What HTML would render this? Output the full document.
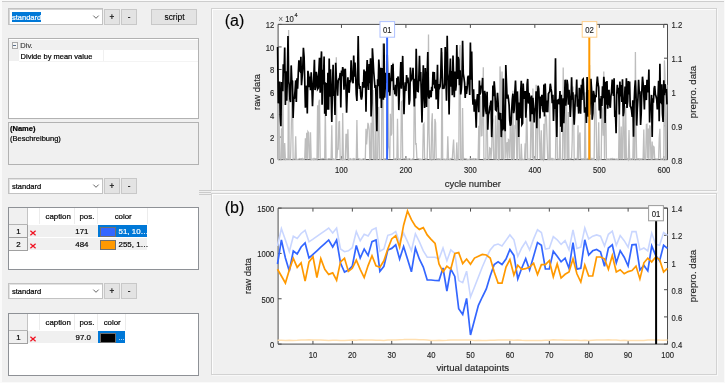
<!DOCTYPE html>
<html><head><meta charset="utf-8"><style>
*{box-sizing:border-box;margin:0;padding:0}
html,body{width:725px;height:383px;overflow:hidden;background:#fafafa}
body{position:relative;font-family:"Liberation Sans",sans-serif;color:#000}
.a{position:absolute}
.win{left:2px;top:2px;width:722px;height:380px;background:#f0f0f0}
.topline{left:2px;top:1px;width:722px;height:1px;background:#cdcdcd}
.t{font-size:7.5px;line-height:1;white-space:nowrap;-webkit-text-stroke:0.2px currentColor}
.cb{background:#fff;border:1px solid #c2c2c2;box-shadow:inset 1px 1px 0 #e2e2e2}
.btn{background:#e3e3e3;border:1px solid #c8c8c8}
.box{border:1px solid #b2b2b2}
.tbl{border:1px solid #8e9196;background:#fff}
.panel{border:1px solid #d2d2d2;box-shadow:inset 1px 1px 0 #fdfdfd,1px 1px 0 #f8f8f8}
svg text{font-family:"Liberation Sans",sans-serif;stroke:#262626;stroke-width:0.15px}
</style></head><body>
<div class="a topline"></div>
<div class="a win"></div>

<div class="a cb" style="left:8px;top:8px;width:95px;height:17px;box-shadow:inset 1px 1px 0 #d6d6d6"></div><div class="a" style="left:11.8px;top:11.75px;width:29px;height:10px;background:#0078d7"></div><div class="a t" style="left:12px;top:13.8px;color:#fff">standard</div><svg class="a" style="left:92px;top:14.4px" width="8" height="6" viewBox="0 0 8 6"><path d="M1.3 1.6 L4 4.3 L6.7 1.6" fill="none" stroke="#666" stroke-width="1"/></svg><div class="a btn" style="left:104px;top:9px;width:16px;height:16px"></div><div class="a t" style="left:104px;top:14.0px;width:16px;text-align:center;font-size:8.2px">+</div><div class="a btn" style="left:121px;top:9px;width:16px;height:16px"></div><div class="a t" style="left:121px;top:12.8px;width:16px;text-align:center;font-size:8px">-</div>
<div class="a btn" style="left:151px;top:9px;width:46px;height:16px"></div>
<div class="a t" style="left:151.5px;top:13px;width:46px;text-align:center;font-size:8.4px;-webkit-text-stroke:0.1px #000">script</div>
<div class="a box" style="left:8px;top:38px;width:191px;height:81px;background:#fff"></div>
<div class="a" style="left:9px;top:40px;width:189px;height:10px;background:#f0f0f0"></div>
<div class="a" style="left:9px;top:50px;width:10px;height:11px;background:#f0f0f0"></div>
<div class="a" style="left:103px;top:50px;width:1px;height:11px;background:#f0f0f0"></div>
<div class="a" style="left:19px;top:60.5px;width:179px;height:1px;background:#f4f4f4"></div>
<div class="a" style="left:11.5px;top:42px;width:6.5px;height:6.5px;border:1px solid #a8a8a8;background:#f6f6f6"></div>
<div class="a" style="left:13.2px;top:44.8px;width:3.2px;height:1px;background:#5a6f8a"></div>
<div class="a t" style="left:20.3px;top:41.6px;color:#4a4a4a">Div.</div>
<div class="a t" style="left:20.6px;top:52.8px">Divide by mean value</div>
<div class="a box" style="left:8px;top:122px;width:191px;height:43px;background:#f0f0f0"></div>
<div class="a t" style="left:10px;top:124.5px;font-weight:bold">(Name)</div>
<div class="a t" style="left:10px;top:135.2px">(Beschreibung)</div>
<div class="a cb" style="left:8px;top:178.4px;width:95px;height:16px"></div><div class="a t" style="left:12px;top:182.5px;color:#000">standard</div><svg class="a" style="left:92px;top:182.6px" width="8" height="6" viewBox="0 0 8 6"><path d="M1.3 1.6 L4 4.3 L6.7 1.6" fill="none" stroke="#666" stroke-width="1"/></svg><div class="a btn" style="left:104px;top:178px;width:16px;height:16px"></div><div class="a t" style="left:104px;top:183.0px;width:16px;text-align:center;font-size:8.2px">+</div><div class="a btn" style="left:121px;top:178px;width:16px;height:16px"></div><div class="a t" style="left:121px;top:181.8px;width:16px;text-align:center;font-size:8px">-</div>
<div class="a" style="left:199px;top:190px;width:12px;height:1px;background:#cbcbcb"></div>
<div class="a" style="left:199px;top:192px;width:12px;height:1px;background:#cbcbcb"></div>
<div class="a" style="left:199px;top:194px;width:12px;height:1px;background:#cbcbcb"></div>
<div class="a tbl" style="left:8px;top:207px;width:191px;height:63px"></div><div class="a" style="left:9px;top:208px;width:19px;height:17px;background:#f0f0f0;border-right:1px solid #c4c4c4;border-bottom:1px solid #b4b4b4"></div><div class="a" style="left:39px;top:208px;width:1px;height:16px;background:#ececec"></div><div class="a" style="left:74px;top:208px;width:1px;height:16px;background:#ececec"></div><div class="a" style="left:97px;top:208px;width:1px;height:16px;background:#ececec"></div><div class="a" style="left:147px;top:208px;width:1px;height:16px;background:#ececec"></div><div class="a t" style="left:40.7px;top:213.3px;width:35px;text-align:center;font-size:7.9px">caption</div><div class="a t" style="left:75.4px;top:213.3px;width:23px;text-align:center;font-size:7.9px">pos.</div><div class="a t" style="left:98.2px;top:213.3px;width:50px;text-align:center;font-size:7.9px">color</div><div class="a" style="left:9px;top:225px;width:19px;height:13px;background:#f0f0f0;border-right:1px solid #a0a0a0;border-bottom:1px solid #a0a0a0"></div><div class="a t" style="left:9px;top:228.3px;width:19px;text-align:center;font-size:7.9px">1</div><div class="a" style="left:28px;top:225px;width:119px;height:12px;background:#f0f0f0"></div><svg class="a" style="left:29px;top:229px" width="8" height="8" viewBox="0 0 8 8"><path d="M1.4 1.8 L6.6 6.2 M6.6 1.8 L1.4 6.2" stroke="#f01020" stroke-width="1.25"/></svg><div class="a t" style="left:73.5px;top:228.3px;width:15px;text-align:right;font-size:7.9px">171</div><div class="a" style="left:98px;top:225px;width:49px;height:12px;background:#0078d7"></div><div class="a" style="left:99.5px;top:227px;width:16.5px;height:9.5px;background:#3366ff;border:1px solid #6f6f6f"></div><div class="a t" style="left:118.6px;top:228.3px;color:#fff;font-size:7.9px">51, 10&hellip;</div><div class="a" style="left:9px;top:238px;width:19px;height:13px;background:#f0f0f0;border-right:1px solid #a0a0a0;border-bottom:1px solid #a0a0a0"></div><div class="a t" style="left:9px;top:241.3px;width:19px;text-align:center;font-size:7.9px">2</div><div class="a" style="left:28px;top:238px;width:119px;height:12px;background:#f0f0f0"></div><svg class="a" style="left:29px;top:242px" width="8" height="8" viewBox="0 0 8 8"><path d="M1.4 1.8 L6.6 6.2 M6.6 1.8 L1.4 6.2" stroke="#f01020" stroke-width="1.25"/></svg><div class="a t" style="left:73.5px;top:241.3px;width:15px;text-align:right;font-size:7.9px">484</div><div class="a" style="left:99.5px;top:240px;width:16.5px;height:9.5px;background:#ff9900;border:1px solid #6f6f6f"></div><div class="a t" style="left:118.6px;top:241.3px;color:#000;font-size:7.9px">255, 1&hellip;</div>
<div class="a cb" style="left:8px;top:283.4px;width:95px;height:16px"></div><div class="a t" style="left:12px;top:287.5px;color:#000">standard</div><svg class="a" style="left:92px;top:287.6px" width="8" height="6" viewBox="0 0 8 6"><path d="M1.3 1.6 L4 4.3 L6.7 1.6" fill="none" stroke="#666" stroke-width="1"/></svg><div class="a btn" style="left:104px;top:283px;width:16px;height:16px"></div><div class="a t" style="left:104px;top:288.0px;width:16px;text-align:center;font-size:8.2px">+</div><div class="a btn" style="left:121px;top:283px;width:16px;height:16px"></div><div class="a t" style="left:121px;top:286.8px;width:16px;text-align:center;font-size:8px">-</div>
<div class="a tbl" style="left:8px;top:313px;width:191px;height:63px"></div><div class="a" style="left:9px;top:314px;width:19px;height:17px;background:#f0f0f0;border-right:1px solid #c4c4c4;border-bottom:1px solid #b4b4b4"></div><div class="a" style="left:39px;top:314px;width:1px;height:16px;background:#ececec"></div><div class="a" style="left:74px;top:314px;width:1px;height:16px;background:#ececec"></div><div class="a" style="left:97px;top:314px;width:1px;height:16px;background:#ececec"></div><div class="a" style="left:125px;top:314px;width:1px;height:16px;background:#ececec"></div><div class="a t" style="left:40.7px;top:319.3px;width:35px;text-align:center;font-size:7.9px">caption</div><div class="a t" style="left:75.4px;top:319.3px;width:23px;text-align:center;font-size:7.9px">pos.</div><div class="a t" style="left:98.2px;top:319.3px;width:28px;text-align:center;font-size:7.9px">color</div><div class="a" style="left:9px;top:331px;width:19px;height:13px;background:#f0f0f0;border-right:1px solid #a0a0a0;border-bottom:1px solid #a0a0a0"></div><div class="a t" style="left:9px;top:334.3px;width:19px;text-align:center;font-size:7.9px">1</div><div class="a" style="left:28px;top:331px;width:97px;height:12px;background:#f0f0f0"></div><svg class="a" style="left:29px;top:335px" width="8" height="8" viewBox="0 0 8 8"><path d="M1.4 1.8 L6.6 6.2 M6.6 1.8 L1.4 6.2" stroke="#f01020" stroke-width="1.25"/></svg><div class="a t" style="left:75.6px;top:334.3px;width:15px;text-align:right;font-size:7.9px">97.0</div><div class="a" style="left:98px;top:331px;width:27px;height:12px;background:#0078d7"></div><div class="a" style="left:99.5px;top:333px;width:16.5px;height:9.5px;background:#000000;border:1px solid #6f6f6f"></div><div class="a t" style="left:118.6px;top:335.2px;color:#fff;font-size:6px">&hellip;</div>
<div class="a panel" style="left:211px;top:8px;width:506px;height:183px"></div>
<div class="a panel" style="left:211px;top:193px;width:506px;height:182px"></div>
<svg class="a" style="left:0;top:0" width="725" height="383" viewBox="0 0 725 383">
<rect x="278.1" y="24.4" width="389.4" height="135.2" fill="#fff"/>
<path d="M278.1,159.6 V24.4 H667.5 V159.6 Z M341.46,159.6 v-3.5 M341.46,24.4 v3.5 M405.92,159.6 v-3.5 M405.92,24.4 v3.5 M470.38,159.6 v-3.5 M470.38,24.4 v3.5 M534.84,159.6 v-3.5 M534.84,24.4 v3.5 M599.30,159.6 v-3.5 M599.30,24.4 v3.5 M663.76,159.6 v-3.5 M663.76,24.4 v3.5 M278.1,159.60 h3.5 M278.1,137.07 h3.5 M278.1,114.53 h3.5 M278.1,92.00 h3.5 M278.1,69.47 h3.5 M278.1,46.93 h3.5 M278.1,24.40 h3.5 M667.5,159.60 h-3.5 M667.5,125.80 h-3.5 M667.5,92.00 h-3.5 M667.5,58.20 h-3.5 M667.5,24.40 h-3.5" fill="none" stroke="#4d4d4d" stroke-width="1"/>
<polyline points="277.6,158.6 278.3,159.2 278.9,100.8 279.6,158.8 280.2,159.0 280.9,159.4 281.5,128.2 282.2,158.7 282.8,64.6 283.4,159.2 284.1,159.0 284.7,143.1 285.4,159.5 286.0,159.1 286.7,158.8 287.3,159.0 288.0,159.1 288.6,30.0 289.2,159.0 289.9,159.4 290.5,159.2 291.2,132.7 291.8,99.4 292.5,92.6 293.1,159.4 293.8,158.8 294.4,158.6 295.0,158.9 295.7,136.3 296.3,159.3 297.0,159.4 297.6,159.4 298.3,159.2 298.9,159.0 299.6,158.6 300.2,159.1 300.9,158.6 301.5,158.6 302.1,159.5 302.8,158.6 303.4,159.2 304.1,159.3 304.7,158.6 305.4,138.2 306.0,158.8 306.7,132.7 307.3,159.4 307.9,131.7 308.6,132.8 309.2,158.6 309.9,158.6 310.5,132.3 311.2,159.6 311.8,159.3 312.5,159.4 313.1,158.6 313.7,159.6 314.4,158.6 315.0,159.5 315.7,158.6 316.3,158.7 317.0,159.5 317.6,105.3 318.3,158.7 318.9,101.9 319.5,99.8 320.2,158.8 320.8,158.9 321.5,158.8 322.1,158.8 322.8,158.5 323.4,158.6 324.1,158.6 324.7,158.8 325.3,108.5 326.0,159.0 326.6,159.2 327.3,159.3 327.9,159.2 328.6,158.7 329.2,158.7 329.9,159.1 330.5,158.9 331.1,158.7 331.8,125.2 332.4,159.1 333.1,158.7 333.7,159.3 334.4,159.3 335.0,159.2 335.7,159.4 336.3,57.3 336.9,158.5 337.6,147.7 338.2,149.8 338.9,122.2 339.5,121.0 340.2,158.7 340.8,159.2 341.5,159.0 342.1,159.4 342.7,113.0 343.4,159.4 344.0,159.3 344.7,159.3 345.3,159.2 346.0,134.4 346.6,134.3 347.3,159.3 347.9,129.3 348.6,159.6 349.2,159.0 349.8,159.4 350.5,158.7 351.1,159.4 351.8,159.3 352.4,159.0 353.1,159.5 353.7,158.5 354.4,158.8 355.0,159.6 355.6,159.5 356.3,158.6 356.9,120.1 357.6,158.8 358.2,158.7 358.9,158.7 359.5,159.5 360.2,159.1 360.8,159.3 361.4,159.6 362.1,159.3 362.7,159.2 363.4,158.7 364.0,158.9 364.7,159.3 365.3,159.2 366.0,128.7 366.6,144.5 367.2,135.6 367.9,122.8 368.5,125.2 369.2,130.0 369.8,159.4 370.5,158.8 371.1,122.8 371.8,159.0 372.4,100.9 373.0,90.1 373.7,159.1 374.3,159.1 375.0,158.6 375.6,86.3 376.3,159.2 376.9,158.9 377.6,159.0 378.2,107.6 378.8,107.4 379.5,159.0 380.1,159.3 380.8,159.4 381.4,159.0 382.1,66.4 382.7,43.5 383.4,159.0 384.0,159.5 384.6,158.8 385.3,158.7 385.9,159.0 386.6,159.4 387.2,158.9 387.9,80.4 388.5,146.2 389.2,149.3 389.8,158.7 390.4,113.7 391.1,135.6 391.7,133.7 392.4,78.1 393.0,62.4 393.7,159.0 394.3,159.2 395.0,158.8 395.6,158.5 396.3,159.4 396.9,158.7 397.5,118.8 398.2,158.9 398.8,159.4 399.5,158.8 400.1,159.2 400.8,159.1 401.4,102.1 402.1,101.3 402.7,158.5 403.3,158.8 404.0,158.9 404.6,158.6 405.3,158.6 405.9,159.1 406.6,159.2 407.2,158.9 407.9,159.5 408.5,159.3 409.1,158.5 409.8,158.8 410.4,159.3 411.1,159.5 411.7,159.3 412.4,159.2 413.0,158.6 413.7,159.0 414.3,89.0 414.9,87.9 415.6,144.7 416.2,143.1 416.9,158.5 417.5,158.5 418.2,158.7 418.8,158.8 419.5,159.5 420.1,159.1 420.7,159.4 421.4,159.4 422.0,159.4 422.7,158.8 423.3,124.7 424.0,123.6 424.6,158.5 425.3,158.6 425.9,159.4 426.5,159.2 427.2,158.6 427.8,128.1 428.5,34.5 429.1,133.2 429.8,158.9 430.4,158.5 431.1,159.4 431.7,122.8 432.3,113.2 433.0,159.1 433.6,158.6 434.3,159.1 434.9,118.9 435.6,122.8 436.2,158.9 436.9,159.0 437.5,159.0 438.1,158.7 438.8,159.3 439.4,159.0 440.1,159.1 440.7,159.4 441.4,159.0 442.0,52.1 442.7,158.8 443.3,159.2 444.0,159.1 444.6,159.1 445.2,159.5 445.9,159.5 446.5,159.0 447.2,159.3 447.8,136.2 448.5,159.0 449.1,159.2 449.8,159.5 450.4,159.2 451.0,158.5 451.7,158.7 452.3,158.7 453.0,147.5 453.6,139.6 454.3,159.5 454.9,159.5 455.6,159.3 456.2,159.6 456.8,142.4 457.5,159.5 458.1,159.0 458.8,158.9 459.4,53.4 460.1,45.1 460.7,159.2 461.4,158.6 462.0,159.4 462.6,107.9 463.3,159.1 463.9,158.8 464.6,158.5 465.2,158.7 465.9,158.8 466.5,158.8 467.2,159.5 467.8,159.5 468.4,159.4 469.1,159.4 469.7,159.1 470.4,158.6 471.0,158.8 471.7,159.1 472.3,159.0 473.0,159.0 473.6,158.7 474.2,159.6 474.9,158.9 475.5,158.7 476.2,159.1 476.8,159.1 477.5,159.4 478.1,159.2 478.8,125.8 479.4,159.3 480.0,106.9 480.7,95.5 481.3,135.8 482.0,135.6 482.6,111.7 483.3,67.3 483.9,159.4 484.6,158.7 485.2,159.5 485.9,159.4 486.5,100.5 487.1,113.0 487.8,158.5 488.4,159.3 489.1,158.8 489.7,147.9 490.4,148.5 491.0,159.0 491.7,147.4 492.3,117.5 492.9,120.2 493.6,158.8 494.2,158.9 494.9,158.7 495.5,115.6 496.2,159.1 496.8,159.2 497.5,108.2 498.1,110.0 498.7,159.5 499.4,158.9 500.0,66.4 500.7,84.4 501.3,159.2 502.0,71.5 502.6,158.5 503.3,158.6 503.9,159.0 504.5,106.0 505.2,107.2 505.8,158.6 506.5,143.1 507.1,142.8 507.8,159.0 508.4,139.6 509.1,140.3 509.7,158.6 510.3,122.5 511.0,121.4 511.6,158.9 512.3,158.5 512.9,90.8 513.6,159.3 514.2,159.1 514.9,126.5 515.5,127.4 516.1,110.9 516.8,159.1 517.4,159.2 518.1,108.2 518.7,102.8 519.4,159.2 520.0,158.6 520.7,159.4 521.3,143.7 521.9,158.9 522.6,159.0 523.2,159.6 523.9,159.5 524.5,158.8 525.2,143.4 525.8,159.3 526.5,113.5 527.1,121.8 527.7,159.3 528.4,159.4 529.0,159.0 529.7,159.5 530.3,158.6 531.0,111.8 531.6,114.5 532.3,158.6 532.9,88.4 533.6,159.3 534.2,158.6 534.8,159.2 535.5,158.6 536.1,84.7 536.8,91.4 537.4,159.4 538.1,97.6 538.7,91.1 539.4,131.1 540.0,158.7 540.6,159.0 541.3,130.3 541.9,158.9 542.6,158.5 543.2,159.6 543.9,123.8 544.5,159.5 545.2,119.7 545.8,114.7 546.4,117.0 547.1,140.2 547.7,159.0 548.4,159.3 549.0,159.4 549.7,93.4 550.3,159.2 551.0,159.3 551.6,158.6 552.2,159.4 552.9,158.5 553.5,159.4 554.2,159.3 554.8,159.4 555.5,159.3 556.1,109.5 556.8,99.3 557.4,158.9 558.0,158.9 558.7,159.0 559.3,159.0 560.0,126.4 560.6,159.3 561.3,159.5 561.9,159.3 562.6,158.7 563.2,67.4 563.8,122.5 564.5,159.0 565.1,159.4 565.8,78.9 566.4,83.7 567.1,158.8 567.7,158.7 568.4,111.9 569.0,158.5 569.6,159.1 570.3,158.8 570.9,158.5 571.6,158.5 572.2,140.9 572.9,86.6 573.5,96.6 574.2,159.5 574.8,158.7 575.4,158.6 576.1,158.5 576.7,159.0 577.4,159.2 578.0,125.2 578.7,159.5 579.3,136.0 580.0,132.5 580.6,158.5 581.3,158.6 581.9,159.3 582.5,158.9 583.2,158.7 583.8,159.3 584.5,159.1 585.1,92.2 585.8,159.3 586.4,159.2 587.1,159.2 587.7,158.5 588.3,158.6 589.0,159.0 589.6,64.9 590.3,158.8 590.9,159.0 591.6,158.5 592.2,159.3 592.9,158.5 593.5,159.4 594.1,159.5 594.8,104.5 595.4,99.2 596.1,114.4 596.7,159.5 597.4,158.5 598.0,159.5 598.7,122.2 599.3,159.0 599.9,159.3 600.6,159.3 601.2,159.1 601.9,107.2 602.5,114.1 603.2,135.7 603.8,71.6 604.5,159.2 605.1,92.1 605.7,92.4 606.4,159.3 607.0,158.8 607.7,159.2 608.3,159.1 609.0,158.9 609.6,159.3 610.3,159.1 610.9,158.6 611.5,159.2 612.2,158.5 612.8,159.1 613.5,158.8 614.1,158.8 614.8,158.9 615.4,159.1 616.1,159.3 616.7,159.0 617.3,159.2 618.0,159.6 618.6,158.7 619.3,110.6 619.9,158.8 620.6,159.0 621.2,126.4 621.9,158.7 622.5,158.9 623.2,102.1 623.8,104.5 624.4,158.9 625.1,159.0 625.7,106.2 626.4,158.7 627.0,159.1 627.7,158.5 628.3,159.5 629.0,129.9 629.6,159.2 630.2,159.5 630.9,158.8 631.5,158.7 632.2,159.3 632.8,159.0 633.5,124.4 634.1,158.7 634.8,159.4 635.4,51.9 636.0,124.1 636.7,159.2 637.3,159.2 638.0,158.7 638.6,158.6 639.3,159.6 639.9,158.7 640.6,159.0 641.2,159.0 641.8,159.2 642.5,158.6 643.1,158.6 643.8,129.5 644.4,159.2 645.1,159.2 645.7,159.1 646.4,124.4 647.0,124.2 647.6,158.5 648.3,128.4 648.9,159.5 649.6,125.2 650.2,126.6 650.9,159.0 651.5,159.2 652.2,141.5 652.8,159.4 653.4,146.4 654.1,147.1 654.7,158.8 655.4,158.9 656.0,159.0 656.7,159.2 657.3,159.1 658.0,159.0 658.6,158.6 659.2,138.5 659.9,128.8 660.5,158.8 661.2,158.8 661.8,159.2 662.5,158.6 663.1,158.6 663.8,159.5 664.4,60.4 665.0,74.8 665.7,159.2 666.3,159.0 667.0,84.8" fill="none" stroke="#bdbdbd" stroke-width="1.3"/>
<polyline points="277.6,46.9 278.3,103.3 278.9,98.7 279.6,81.6 280.2,116.2 280.9,126.3 281.5,82.1 282.2,84.4 282.8,91.3 283.4,64.3 284.1,72.6 284.7,47.6 285.4,104.9 286.0,71.2 286.7,100.7 287.3,80.7 288.0,36.1 288.6,81.4 289.2,84.6 289.9,99.1 290.5,102.0 291.2,65.4 291.8,80.5 292.5,81.1 293.1,118.0 293.8,98.5 294.4,98.3 295.0,91.3 295.7,80.4 296.3,102.1 297.0,78.3 297.6,88.8 298.3,72.7 298.9,60.3 299.6,70.2 300.2,71.3 300.9,56.8 301.5,85.2 302.1,77.4 302.8,67.6 303.4,47.8 304.1,56.7 304.7,79.0 305.4,107.8 306.0,89.5 306.7,85.7 307.3,113.5 307.9,70.8 308.6,75.0 309.2,87.1 309.9,76.5 310.5,90.1 311.2,72.4 311.8,84.0 312.5,106.2 313.1,89.3 313.7,79.2 314.4,59.7 315.0,90.0 315.7,87.2 316.3,71.9 317.0,76.7 317.6,89.0 318.3,87.9 318.9,70.1 319.5,57.8 320.2,92.7 320.8,67.8 321.5,51.4 322.1,104.7 322.8,69.7 323.4,84.5 324.1,56.4 324.7,113.8 325.3,82.2 326.0,115.9 326.6,83.1 327.3,109.7 327.9,72.7 328.6,109.7 329.2,58.5 329.9,96.7 330.5,69.2 331.1,94.1 331.8,121.9 332.4,89.9 333.1,64.8 333.7,95.7 334.4,93.5 335.0,114.9 335.7,62.7 336.3,77.3 336.9,85.8 337.6,95.8 338.2,80.8 338.9,78.7 339.5,78.3 340.2,72.9 340.8,107.4 341.5,70.6 342.1,76.2 342.7,67.1 343.4,71.0 344.0,89.8 344.7,70.3 345.3,68.8 346.0,88.7 346.6,112.8 347.3,91.1 347.9,77.4 348.6,91.8 349.2,91.9 349.8,80.1 350.5,82.4 351.1,60.2 351.8,75.3 352.4,80.0 353.1,83.3 353.7,55.6 354.4,76.8 355.0,62.5 355.6,75.2 356.3,94.5 356.9,101.0 357.6,75.9 358.2,36.0 358.9,82.6 359.5,89.0 360.2,86.1 360.8,96.2 361.4,99.5 362.1,96.2 362.7,82.0 363.4,87.8 364.0,69.6 364.7,87.8 365.3,71.3 366.0,111.8 366.6,74.7 367.2,60.0 367.9,82.6 368.5,89.9 369.2,64.1 369.8,83.1 370.5,58.3 371.1,116.5 371.8,102.7 372.4,48.2 373.0,58.4 373.7,71.2 374.3,79.0 375.0,88.0 375.6,85.0 376.3,106.3 376.9,131.2 377.6,79.2 378.2,86.2 378.8,59.6 379.5,71.1 380.1,98.5 380.8,67.7 381.4,108.1 382.1,68.0 382.7,87.4 383.4,99.7 384.0,43.5 384.6,97.7 385.3,85.5 385.9,72.7 386.6,82.9 387.2,54.6 387.9,92.3 388.5,74.0 389.2,73.8 389.8,95.8 390.4,82.4 391.1,77.8 391.7,65.0 392.4,81.2 393.0,63.7 393.7,88.8 394.3,88.5 395.0,94.4 395.6,84.8 396.3,96.2 396.9,79.0 397.5,79.2 398.2,76.4 398.8,110.1 399.5,89.0 400.1,81.7 400.8,62.0 401.4,88.8 402.1,73.3 402.7,55.9 403.3,84.4 404.0,114.2 404.6,94.5 405.3,82.4 405.9,90.9 406.6,75.1 407.2,83.1 407.9,77.5 408.5,85.4 409.1,104.7 409.8,99.9 410.4,67.5 411.1,80.1 411.7,78.9 412.4,77.2 413.0,67.9 413.7,86.0 414.3,106.5 414.9,78.7 415.6,98.4 416.2,48.8 416.9,79.3 417.5,91.2 418.2,91.5 418.8,79.1 419.5,55.7 420.1,81.3 420.7,71.9 421.4,98.7 422.0,122.6 422.7,85.2 423.3,65.2 424.0,95.9 424.6,108.0 425.3,68.0 425.9,81.6 426.5,107.0 427.2,72.9 427.8,51.9 428.5,96.3 429.1,98.6 429.8,90.3 430.4,94.7 431.1,97.3 431.7,86.9 432.3,91.0 433.0,71.7 433.6,84.8 434.3,72.1 434.9,88.5 435.6,79.8 436.2,99.4 436.9,89.1 437.5,64.8 438.1,109.0 438.8,83.9 439.4,88.2 440.1,86.6 440.7,77.0 441.4,48.1 442.0,66.8 442.7,89.0 443.3,85.9 444.0,88.7 444.6,82.6 445.2,47.1 445.9,77.6 446.5,100.7 447.2,35.7 447.8,73.5 448.5,80.3 449.1,114.5 449.8,73.4 450.4,58.5 451.0,86.8 451.7,71.0 452.3,95.3 453.0,55.5 453.6,76.0 454.3,97.3 454.9,71.4 455.6,90.7 456.2,85.4 456.8,45.1 457.5,79.0 458.1,56.9 458.8,59.7 459.4,85.3 460.1,70.2 460.7,94.5 461.4,88.9 462.0,78.2 462.6,40.7 463.3,73.8 463.9,77.3 464.6,83.0 465.2,98.0 465.9,86.1 466.5,93.8 467.2,87.7 467.8,77.2 468.4,75.7 469.1,83.0 469.7,95.0 470.4,42.4 471.0,79.7 471.7,51.4 472.3,89.9 473.0,104.8 473.6,89.2 474.2,111.8 474.9,99.3 475.5,108.3 476.2,127.7 476.8,101.6 477.5,94.1 478.1,98.8 478.8,112.2 479.4,80.5 480.0,94.6 480.7,92.2 481.3,85.5 482.0,87.2 482.6,77.9 483.3,116.7 483.9,108.5 484.6,90.8 485.2,94.4 485.9,111.2 486.5,114.2 487.1,91.8 487.8,129.8 488.4,114.8 489.1,112.9 489.7,107.6 490.4,104.5 491.0,100.6 491.7,137.1 492.3,120.7 492.9,85.6 493.6,96.1 494.2,81.4 494.9,91.2 495.5,109.7 496.2,110.4 496.8,103.5 497.5,92.7 498.1,102.4 498.7,119.6 499.4,112.5 500.0,120.1 500.7,112.9 501.3,137.1 502.0,119.3 502.6,130.6 503.3,78.6 503.9,129.4 504.5,110.9 505.2,131.3 505.8,65.0 506.5,83.2 507.1,98.6 507.8,94.6 508.4,98.4 509.1,104.9 509.7,120.1 510.3,125.7 511.0,124.0 511.6,111.6 512.3,99.4 512.9,93.7 513.6,113.1 514.2,110.1 514.9,91.4 515.5,80.6 516.1,96.5 516.8,120.3 517.4,91.4 518.1,111.2 518.7,137.1 519.4,102.6 520.0,118.3 520.7,91.1 521.3,80.8 521.9,124.5 522.6,123.3 523.2,83.5 523.9,98.8 524.5,96.1 525.2,90.9 525.8,117.7 526.5,105.8 527.1,84.4 527.7,78.9 528.4,103.6 529.0,93.0 529.7,97.6 530.3,121.4 531.0,101.6 531.6,95.5 532.3,114.3 532.9,97.9 533.6,107.3 534.2,122.4 534.8,109.0 535.5,109.0 536.1,91.2 536.8,128.3 537.4,98.7 538.1,85.8 538.7,88.5 539.4,104.8 540.0,118.4 540.6,96.6 541.3,106.0 541.9,94.9 542.6,108.4 543.2,112.2 543.9,84.4 544.5,116.4 545.2,83.5 545.8,99.8 546.4,112.2 547.1,100.5 547.7,112.2 548.4,93.7 549.0,92.8 549.7,91.4 550.3,83.7 551.0,88.7 551.6,92.1 552.2,103.3 552.9,94.8 553.5,120.9 554.2,99.8 554.8,108.9 555.5,58.2 556.1,112.0 556.8,137.1 557.4,100.6 558.0,100.1 558.7,102.6 559.3,104.3 560.0,91.1 560.6,126.8 561.3,94.7 561.9,132.1 562.6,106.9 563.2,98.2 563.8,123.1 564.5,100.7 565.1,79.7 565.8,105.7 566.4,97.5 567.1,79.8 567.7,84.7 568.4,104.6 569.0,89.8 569.6,99.6 570.3,117.0 570.9,105.7 571.6,77.3 572.2,99.6 572.9,92.3 573.5,109.8 574.2,124.8 574.8,111.5 575.4,94.6 576.1,96.3 576.7,79.5 577.4,106.8 578.0,99.4 578.7,113.6 579.3,87.7 580.0,97.1 580.6,113.7 581.3,84.8 581.9,99.9 582.5,79.9 583.2,79.1 583.8,92.7 584.5,112.6 585.1,108.7 585.8,108.1 586.4,122.9 587.1,76.9 587.7,99.2 588.3,116.8 589.0,90.0 589.6,114.8 590.3,100.8 590.9,78.8 591.6,89.7 592.2,119.7 592.9,113.3 593.5,90.8 594.1,94.7 594.8,102.3 595.4,95.1 596.1,97.3 596.7,84.7 597.4,76.5 598.0,83.7 598.7,87.2 599.3,110.5 599.9,98.6 600.6,118.6 601.2,96.1 601.9,106.0 602.5,86.4 603.2,98.2 603.8,76.7 604.5,85.4 605.1,123.0 605.7,81.8 606.4,104.8 607.0,80.9 607.7,108.8 608.3,96.4 609.0,89.9 609.6,104.5 610.3,107.7 610.9,96.5 611.5,91.6 612.2,79.6 612.8,91.1 613.5,95.9 614.1,78.2 614.8,116.9 615.4,110.6 616.1,133.2 616.7,95.9 617.3,84.9 618.0,93.3 618.6,87.7 619.3,114.4 619.9,81.5 620.6,96.4 621.2,85.0 621.9,102.0 622.5,79.3 623.2,116.2 623.8,112.5 624.4,100.8 625.1,86.5 625.7,104.0 626.4,78.2 627.0,107.9 627.7,101.2 628.3,81.0 629.0,94.5 629.6,81.4 630.2,106.2 630.9,107.3 631.5,110.0 632.2,116.8 632.8,100.2 633.5,136.7 634.1,103.2 634.8,87.2 635.4,80.4 636.0,94.2 636.7,125.6 637.3,109.3 638.0,97.4 638.6,79.8 639.3,93.5 639.9,91.3 640.6,125.0 641.2,113.8 641.8,91.4 642.5,76.7 643.1,83.1 643.8,95.2 644.4,109.4 645.1,85.0 645.7,94.6 646.4,100.1 647.0,79.7 647.6,92.5 648.3,87.5 648.9,69.5 649.6,122.4 650.2,105.5 650.9,109.4 651.5,94.9 652.2,137.1 652.8,98.3 653.4,102.7 654.1,88.3 654.7,86.0 655.4,94.5 656.0,96.3 656.7,99.3 657.3,109.5 658.0,97.3 658.6,80.7 659.2,121.3 659.9,63.8 660.5,101.4 661.2,102.6 661.8,84.3 662.5,114.1 663.1,121.9 663.8,80.3 664.4,95.1 665.0,84.0 665.7,92.7 666.3,89.1 667.0,104.4" fill="none" stroke="#000" stroke-width="1.7"/>
<line x1="387.1" y1="37" x2="387.1" y2="159.6" stroke="#3366ff" stroke-width="2"/>
<line x1="589.3" y1="37" x2="589.3" y2="159.6" stroke="#ff9900" stroke-width="2"/>
<rect x="380" y="21.6" width="14.6" height="15.6" fill="#fff" stroke="#adc0ff" stroke-width="1"/>
<text transform="translate(387.20,32.80) scale(0.900,1)" font-size="8.60" text-anchor="middle" fill="#262626">01</text>
<rect x="582.2" y="21.6" width="14.6" height="15.6" fill="#fff" stroke="#ffcf8a" stroke-width="1"/>
<text transform="translate(589.50,32.80) scale(0.900,1)" font-size="8.60" text-anchor="middle" fill="#262626">02</text>
<text transform="translate(341.46,173.20) scale(0.900,1)" font-size="8.50" text-anchor="middle" fill="#262626">100</text>
<text transform="translate(405.92,173.20) scale(0.900,1)" font-size="8.50" text-anchor="middle" fill="#262626">200</text>
<text transform="translate(470.38,173.20) scale(0.900,1)" font-size="8.50" text-anchor="middle" fill="#262626">300</text>
<text transform="translate(534.84,173.20) scale(0.900,1)" font-size="8.50" text-anchor="middle" fill="#262626">400</text>
<text transform="translate(599.30,173.20) scale(0.900,1)" font-size="8.50" text-anchor="middle" fill="#262626">500</text>
<text transform="translate(663.76,173.20) scale(0.900,1)" font-size="8.50" text-anchor="middle" fill="#262626">600</text>
<text transform="translate(274.30,163.60) scale(0.900,1)" font-size="8.50" text-anchor="end" fill="#262626">0</text>
<text transform="translate(274.30,141.07) scale(0.900,1)" font-size="8.50" text-anchor="end" fill="#262626">2</text>
<text transform="translate(274.30,118.53) scale(0.900,1)" font-size="8.50" text-anchor="end" fill="#262626">4</text>
<text transform="translate(274.30,96.00) scale(0.900,1)" font-size="8.50" text-anchor="end" fill="#262626">6</text>
<text transform="translate(274.30,73.47) scale(0.900,1)" font-size="8.50" text-anchor="end" fill="#262626">8</text>
<text transform="translate(274.30,50.93) scale(0.900,1)" font-size="8.50" text-anchor="end" fill="#262626">10</text>
<text transform="translate(274.30,28.40) scale(0.900,1)" font-size="8.50" text-anchor="end" fill="#262626">12</text>
<text transform="translate(671.60,163.60) scale(0.900,1)" font-size="8.50" text-anchor="start" fill="#262626">0.8</text>
<text transform="translate(671.60,129.80) scale(0.900,1)" font-size="8.50" text-anchor="start" fill="#262626">0.9</text>
<text transform="translate(671.60,96.00) scale(0.900,1)" font-size="8.50" text-anchor="start" fill="#262626">1</text>
<text transform="translate(671.60,62.20) scale(0.900,1)" font-size="8.50" text-anchor="start" fill="#262626">1.1</text>
<text transform="translate(671.60,28.40) scale(0.900,1)" font-size="8.50" text-anchor="start" fill="#262626">1.2</text>
<text x="278.3" y="21.5" font-size="8.4" fill="#555" style="stroke:none">&#215;</text>
<text transform="translate(285.20,21.70) scale(0.900,1)" font-size="8.60" text-anchor="start" fill="#262626">10</text>
<text transform="translate(294.40,17.30) scale(0.900,1)" font-size="6.20" text-anchor="start" fill="#262626">4</text>
<text x="472.8" y="187" font-size="9.45" text-anchor="middle" fill="#262626">cycle number</text>
<text transform="translate(260,92) rotate(-90)" font-size="9.4" text-anchor="middle" fill="#262626">raw data</text>
<text transform="translate(695.8,92) rotate(-90)" font-size="9.7" text-anchor="middle" fill="#262626">prepro. data</text>
<text x="224.7" y="26.2" font-size="16" fill="#000">(a)</text>
<rect x="278.1" y="208.1" width="389.4" height="136.0" fill="#fff"/>
<path d="M278.1,344.1 V208.1 H667.5 V344.1 Z M312.95,344.1 v-3.5 M312.95,208.1 v3.5 M352.35,344.1 v-3.5 M352.35,208.1 v3.5 M391.74,344.1 v-3.5 M391.74,208.1 v3.5 M431.14,344.1 v-3.5 M431.14,208.1 v3.5 M470.53,344.1 v-3.5 M470.53,208.1 v3.5 M509.92,344.1 v-3.5 M509.92,208.1 v3.5 M549.32,344.1 v-3.5 M549.32,208.1 v3.5 M588.71,344.1 v-3.5 M588.71,208.1 v3.5 M628.11,344.1 v-3.5 M628.11,208.1 v3.5 M667.50,344.1 v-3.5 M667.50,208.1 v3.5 M278.1,344.10 h3.5 M278.1,298.77 h3.5 M278.1,253.43 h3.5 M278.1,208.10 h3.5 M667.5,344.10 h-3.5 M667.5,316.90 h-3.5 M667.5,289.70 h-3.5 M667.5,262.50 h-3.5 M667.5,235.30 h-3.5 M667.5,208.10 h-3.5" fill="none" stroke="#4d4d4d" stroke-width="1"/>
<polyline points="277.5,340.2 281.4,340.3 285.4,340.5 289.3,340.3 293.3,340.4 297.2,340.2 301.1,339.9 305.1,340.0 309.0,339.8 313.0,339.9 316.9,339.9 320.8,340.0 324.8,340.2 328.7,340.5 332.7,340.3 336.6,340.3 340.5,340.5 344.5,340.5 348.4,340.2 352.3,340.0 356.3,340.2 360.2,339.8 364.2,340.1 368.1,340.0 372.0,340.0 376.0,340.2 379.9,340.3 383.9,340.6 387.8,339.9 391.7,340.0 395.7,339.9 399.6,339.7 403.6,339.6 407.5,339.4 411.4,339.4 415.4,339.5 419.3,339.8 423.3,339.8 427.2,339.9 431.1,340.5 435.1,340.4 439.0,340.3 443.0,340.4 446.9,340.3 450.8,340.0 454.8,340.0 458.7,340.0 462.7,340.1 466.6,340.1 470.5,340.1 474.5,340.5 478.4,340.2 482.3,340.4 486.3,340.5 490.2,340.2 494.2,340.3 498.1,340.0 502.0,340.1 506.0,340.1 509.9,340.0 513.9,340.2 517.8,340.0 521.7,340.3 525.7,340.4 529.6,340.5 533.6,340.4 537.5,340.6 541.4,340.5 545.4,340.2 549.3,340.2 553.3,339.8 557.2,340.0 561.1,340.0 565.1,340.2 569.0,340.3 573.0,340.2 576.9,340.3 580.8,340.5 584.8,340.3 588.7,340.4 592.7,340.2 596.6,340.0 600.5,339.9 604.5,340.1 608.4,339.8 612.3,339.9 616.3,340.0 620.2,340.4 624.2,340.2 628.1,340.4 632.0,340.5 636.0,340.6 639.9,340.5 643.9,340.4 647.8,340.0 651.7,340.0 655.7,339.9 659.6,340.1 663.6,340.2 667.5,340.0" fill="none" stroke="#ffdfb0" stroke-width="1.5"/>
<polyline points="277.5,246.0 281.4,228.6 285.4,240.0 289.3,251.6 293.3,236.3 297.2,238.5 301.1,233.5 305.1,230.3 309.0,241.8 313.0,239.1 316.9,236.3 320.8,233.6 324.8,230.8 328.7,228.1 332.7,233.0 336.6,228.1 340.5,249.0 344.5,251.7 348.4,250.8 352.3,247.7 356.3,231.6 360.2,240.7 364.2,234.3 368.1,236.0 372.0,229.8 376.0,228.0 379.9,251.3 383.9,249.0 387.8,235.3 391.7,234.3 395.7,231.6 399.6,242.6 403.6,233.1 407.5,241.6 411.4,250.8 415.4,233.8 419.3,241.6 423.3,250.8 427.2,257.2 431.1,257.2 435.1,257.2 439.0,259.0 443.0,248.0 446.9,260.8 450.8,249.9 454.8,253.5 458.7,280.6 462.7,282.7 466.6,271.2 470.5,297.0 474.5,287.0 478.4,277.0 482.3,267.0 486.3,257.8 490.2,250.0 494.2,245.3 498.1,244.0 502.0,245.9 506.0,240.4 509.9,234.9 513.9,239.8 517.8,256.3 521.7,248.0 525.7,241.6 529.6,249.9 533.6,238.9 537.5,229.8 541.4,232.5 545.4,249.0 549.3,248.4 553.3,236.7 557.2,239.8 561.1,244.4 565.1,240.7 569.0,249.9 573.0,229.8 576.9,248.4 580.8,247.1 584.8,228.0 588.7,238.9 592.7,236.2 596.6,234.9 600.5,236.2 604.5,245.9 608.4,234.3 612.3,231.2 616.3,245.3 620.2,235.6 624.2,240.7 628.1,247.1 632.0,231.6 636.0,231.6 639.9,249.9 643.9,248.0 647.8,250.8 651.7,233.1 655.7,244.4 659.6,245.3 663.6,232.5 667.5,235.3" fill="none" stroke="#c9d6ff" stroke-width="1.6"/>
<polyline points="277.5,264.0 281.4,240.0 285.4,258.0 289.3,271.0 293.3,251.0 297.2,254.0 301.1,247.0 305.1,243.0 309.0,258.0 313.0,254.4 316.9,250.8 320.8,247.2 324.8,243.6 328.7,240.0 332.7,247.0 336.6,240.0 340.5,263.0 344.5,272.0 348.4,270.0 352.3,266.0 356.3,245.5 360.2,258.0 364.2,249.0 368.1,255.4 372.0,241.6 376.0,240.0 379.9,271.4 383.9,266.3 387.8,250.0 391.7,248.4 395.7,244.8 399.6,259.0 403.6,246.6 407.5,259.0 411.4,271.8 415.4,248.0 419.3,259.0 423.3,267.0 427.2,280.0 431.1,280.0 435.1,280.5 439.0,280.6 443.0,268.0 446.9,291.0 450.8,269.0 454.8,276.4 458.7,308.8 462.7,314.4 466.6,298.4 470.5,335.0 474.5,320.0 478.4,305.4 482.3,297.0 486.3,288.9 490.2,276.0 494.2,264.5 498.1,261.8 502.0,264.5 506.0,259.0 509.9,249.5 513.9,255.4 517.8,278.9 521.7,268.2 525.7,258.7 529.6,270.0 533.6,256.3 537.5,242.6 541.4,245.3 545.4,269.0 549.3,269.0 553.3,251.3 557.2,256.3 561.1,261.8 565.1,258.1 569.0,268.2 573.0,242.6 576.9,269.1 580.8,268.2 584.8,239.8 588.7,255.0 592.7,250.8 596.6,249.5 600.5,251.7 604.5,266.3 608.4,248.0 612.3,244.8 616.3,262.7 620.2,250.8 624.2,257.2 628.1,266.0 632.0,244.8 636.0,244.4 639.9,270.0 643.9,265.4 647.8,270.9 651.7,245.9 655.7,255.4 659.6,260.8 663.6,245.3 667.5,248.4" fill="none" stroke="#3366ff" stroke-width="1.7"/>
<polyline points="277.5,269.3 281.4,276.0 285.4,283.0 289.3,270.0 293.3,258.3 297.2,267.4 301.1,262.9 305.1,281.1 309.0,261.9 313.0,256.8 316.9,277.5 320.8,258.6 324.8,269.3 328.7,274.4 332.7,272.9 336.6,280.2 340.5,261.9 344.5,258.3 348.4,271.4 352.3,268.3 356.3,260.1 360.2,269.3 364.2,277.5 368.1,265.6 372.0,255.8 376.0,265.8 379.9,267.2 383.9,260.8 387.8,249.0 391.7,238.9 395.7,235.6 399.6,247.1 403.6,225.2 407.5,211.0 411.4,219.7 415.4,226.1 419.3,229.4 423.3,227.6 427.2,234.9 431.1,239.3 435.1,243.5 439.0,264.0 443.0,271.8 446.9,266.3 450.8,269.1 454.8,253.5 458.7,252.6 462.7,263.6 466.6,259.0 470.5,264.3 474.5,258.1 478.4,256.3 482.3,254.4 486.3,255.0 490.2,258.1 494.2,272.0 498.1,283.1 502.0,283.1 506.0,267.0 509.9,259.5 513.9,275.0 517.8,265.2 521.7,269.4 525.7,268.7 529.6,267.0 533.6,263.2 537.5,274.6 541.4,264.7 545.4,264.7 549.3,260.6 553.3,276.8 557.2,263.9 561.1,278.0 565.1,274.3 569.0,271.9 573.0,258.8 576.9,273.8 580.8,282.0 584.8,265.0 588.7,276.0 592.7,276.0 596.6,257.0 600.5,257.0 604.5,258.8 608.4,269.2 612.3,255.5 616.3,271.9 620.2,269.7 624.2,273.8 628.1,271.6 632.0,270.5 636.0,266.1 639.9,278.9 643.9,262.8 647.8,258.2 651.7,261.9 655.7,257.0 659.6,259.5 663.6,271.9 667.5,268.3" fill="none" stroke="#ff9900" stroke-width="1.7"/>
<line x1="656.1" y1="221" x2="656.1" y2="344.1" stroke="#000" stroke-width="2"/>
<rect x="648.6" y="205.6" width="14.8" height="15.2" fill="#fff" stroke="#9a9a9a" stroke-width="1"/>
<text transform="translate(656.00,216.60) scale(0.900,1)" font-size="8.60" text-anchor="middle" fill="#262626">01</text>
<text transform="translate(312.95,357.80) scale(0.900,1)" font-size="8.50" text-anchor="middle" fill="#262626">10</text>
<text transform="translate(352.35,357.80) scale(0.900,1)" font-size="8.50" text-anchor="middle" fill="#262626">20</text>
<text transform="translate(391.74,357.80) scale(0.900,1)" font-size="8.50" text-anchor="middle" fill="#262626">30</text>
<text transform="translate(431.14,357.80) scale(0.900,1)" font-size="8.50" text-anchor="middle" fill="#262626">40</text>
<text transform="translate(470.53,357.80) scale(0.900,1)" font-size="8.50" text-anchor="middle" fill="#262626">50</text>
<text transform="translate(509.92,357.80) scale(0.900,1)" font-size="8.50" text-anchor="middle" fill="#262626">60</text>
<text transform="translate(549.32,357.80) scale(0.900,1)" font-size="8.50" text-anchor="middle" fill="#262626">70</text>
<text transform="translate(588.71,357.80) scale(0.900,1)" font-size="8.50" text-anchor="middle" fill="#262626">80</text>
<text transform="translate(628.11,357.80) scale(0.900,1)" font-size="8.50" text-anchor="middle" fill="#262626">90</text>
<text transform="translate(667.50,357.80) scale(0.900,1)" font-size="8.50" text-anchor="middle" fill="#262626">100</text>
<text transform="translate(274.30,348.10) scale(0.900,1)" font-size="8.50" text-anchor="end" fill="#262626">0</text>
<text transform="translate(274.30,302.77) scale(0.900,1)" font-size="8.50" text-anchor="end" fill="#262626">500</text>
<text transform="translate(274.30,257.43) scale(0.900,1)" font-size="8.50" text-anchor="end" fill="#262626">1000</text>
<text transform="translate(274.30,212.10) scale(0.900,1)" font-size="8.50" text-anchor="end" fill="#262626">1500</text>
<text transform="translate(671.60,348.10) scale(0.900,1)" font-size="8.50" text-anchor="start" fill="#262626">0.4</text>
<text transform="translate(671.60,320.90) scale(0.900,1)" font-size="8.50" text-anchor="start" fill="#262626">0.6</text>
<text transform="translate(671.60,293.70) scale(0.900,1)" font-size="8.50" text-anchor="start" fill="#262626">0.8</text>
<text transform="translate(671.60,266.50) scale(0.900,1)" font-size="8.50" text-anchor="start" fill="#262626">1</text>
<text transform="translate(671.60,239.30) scale(0.900,1)" font-size="8.50" text-anchor="start" fill="#262626">1.2</text>
<text transform="translate(671.60,212.10) scale(0.900,1)" font-size="8.50" text-anchor="start" fill="#262626">1.4</text>
<text x="472.8" y="371.4" font-size="9.65" text-anchor="middle" fill="#262626">virtual datapoints</text>
<text transform="translate(251,276) rotate(-90)" font-size="9.4" text-anchor="middle" fill="#262626">raw data</text>
<text transform="translate(695.8,276) rotate(-90)" font-size="9.7" text-anchor="middle" fill="#262626">prepro. data</text>
<text x="224.7" y="213.2" font-size="16" fill="#000">(b)</text>
</svg>
</body></html>
